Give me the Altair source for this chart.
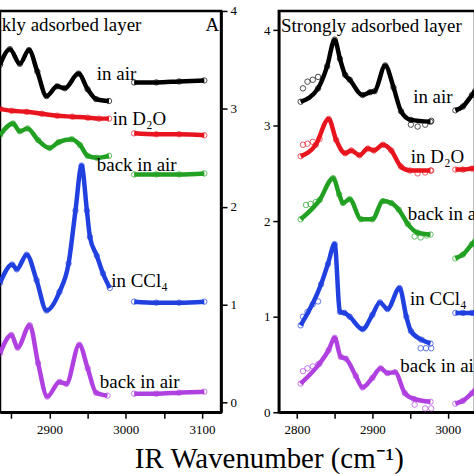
import altair as alt
import pandas as pd

SERIES = ["in air", "in D2O", "back in air", "in CCl4", "back in air (2)"]
COLORS = ["#000000", "#e8141e", "#22a022", "#2040e0", "#b040e0"]

# ---------- left panel: weakly adsorbed layer ----------
L_AIR_X = [2835, 2848, 2861, 2873, 2884, 2896, 2910, 2920, 2938, 2950, 2961, 2978]
L_AIR_Y = [3.45, 3.61, 3.46, 3.60, 3.38, 3.13, 3.23, 3.21, 3.36, 3.20, 3.10, 3.08]
L_D2O_X = [2835, 2850, 2870, 2890, 2910, 2930, 2950, 2965, 2978]
L_D2O_Y = [3.00, 2.98, 2.97, 2.95, 2.93, 2.92, 2.91, 2.90, 2.90]
L_BACK_X = [2835, 2852, 2861, 2871, 2885, 2900, 2912, 2929, 2940, 2950, 2962, 2978]
L_BACK_Y = [2.73, 2.85, 2.77, 2.80, 2.68, 2.60, 2.66, 2.69, 2.63, 2.52, 2.50, 2.52]
L_CCL4_X = [2835, 2851, 2857, 2870, 2883, 2896, 2913, 2925, 2934, 2942, 2949, 2953, 2962, 2970, 2979]
L_CCL4_Y = [1.22, 1.41, 1.36, 1.51, 1.25, 0.94, 1.13, 1.42, 1.96, 2.42, 1.96, 1.69, 1.50, 1.32, 1.17]
L_BACK2_X = [2835, 2850, 2858, 2874, 2885, 2897, 2913, 2922, 2939, 2950, 2961, 2976]
L_BACK2_Y = [0.50, 0.69, 0.56, 0.79, 0.40, 0.06, 0.21, 0.19, 0.59, 0.35, 0.10, 0.07]

L_BASE_X = [3011, 3040, 3070, 3103]
L_AIR_BASE = [3.27, 3.27, 3.28, 3.29]
L_D2O_BASE = [2.75, 2.74, 2.74, 2.73]
L_BACK_BASE = [2.33, 2.33, 2.33, 2.34]
L_CCL4_BASE = [1.03, 1.02, 1.02, 1.03]
L_BACK2_BASE = [0.09, 0.09, 0.10, 0.11]

# ---------- right panel: strongly adsorbed layer ----------
R_AIR_X = [2805, 2828, 2840, 2850, 2857, 2864, 2870, 2887, 2897, 2903, 2917, 2928, 2938, 2951, 2977]
R_AIR_Y = [3.25, 3.39, 3.62, 3.90, 3.70, 3.53, 3.48, 3.32, 3.35, 3.36, 3.63, 3.40, 3.15, 3.06, 3.04]
R_D2O_X = [2805, 2825, 2842, 2852, 2864, 2872, 2883, 2894, 2902, 2914, 2925, 2938, 2950, 2977]
R_D2O_Y = [2.68, 2.80, 3.07, 2.85, 2.71, 2.74, 2.69, 2.76, 2.74, 2.80, 2.74, 2.57, 2.53, 2.53]
R_BACK_X = [2805, 2830, 2848, 2856, 2861, 2870, 2885, 2900, 2914, 2925, 2935, 2947, 2960, 2977]
R_BACK_Y = [2.02, 2.22, 2.45, 2.28, 2.19, 2.23, 2.02, 2.02, 2.21, 2.19, 2.12, 1.97, 1.88, 1.86]
R_CCL4_X = [2805, 2832, 2841, 2850, 2857, 2863, 2870, 2887, 2900, 2910, 2920, 2936, 2945, 2951, 2965, 2977]
R_CCL4_Y = [0.91, 1.34, 1.55, 1.76, 1.05, 1.04, 1.00, 0.87, 1.02, 1.15, 1.08, 1.30, 1.00, 0.85, 0.76, 0.72]
R_BACK2_X = [2805, 2830, 2842, 2850, 2858, 2865, 2878, 2887, 2900, 2911, 2920, 2930, 2943, 2955, 2977]
R_BACK2_Y = [0.30, 0.51, 0.65, 0.78, 0.58, 0.56, 0.38, 0.26, 0.36, 0.46, 0.41, 0.42, 0.20, 0.14, 0.11]

R_BASE_X = [3010, 3020, 3032, 3036]
R_AIR_BASE = [3.16, 3.20, 3.32, 3.36]
R_D2O_BASE = [2.54, 2.54, 2.55, 2.55]
R_BACK_BASE = [1.61, 1.65, 1.76, 1.79]
R_CCL4_BASE = [1.04, 1.04, 1.04, 1.04]
R_BACK2_BASE = [0.09, 0.12, 0.20, 0.23]

# raw-data circles that sit off the fitted curves (right panel)
R_AIR_CX = [2808, 2814, 2821, 2828, 2951, 2960, 2970, 2978]
R_AIR_CY = [3.39, 3.46, 3.48, 3.51, 3.01, 2.99, 3.01, 3.05]
R_D2O_CX = [2808, 2814, 2821, 2830, 2960, 2970, 2978]
R_D2O_CY = [2.80, 2.81, 2.83, 2.86, 2.50, 2.51, 2.53]
R_BACK_CX = [2812, 2818, 2825, 2956, 2964, 2972]
R_BACK_CY = [2.17, 2.18, 2.20, 1.84, 1.83, 1.85]
R_CCL4_CX = [2808, 2814, 2821, 2828, 2964, 2971, 2978]
R_CCL4_CY = [1.00, 1.05, 1.13, 1.16, 0.67, 0.67, 0.67]
R_BACK2_CX = [2808, 2814, 2821, 2828, 2956, 2970, 2978]
R_BACK2_CY = [0.43, 0.46, 0.48, 0.50, 0.08, 0.04, 0.04]

# labels
L_LAB_TEXT = ["in air", "in D₂O", "back in air", "in CCl₄", "back in air"]
L_LAB_X = [2962, 2983, 2962, 2981, 2966]
L_LAB_Y = [3.36, 2.90, 2.43, 1.24, 0.21]
R_LAB_TEXT = ["in air", "in D₂O", "back in air", "in CCl₄", "back in air", "Strongly adsorbed layer"]
R_LAB_X = [2954, 2951, 2947, 2950, 2937, 2779]
R_LAB_Y = [3.30, 2.67, 2.07, 1.18, 0.48, 4.04]
L_TITLE_TEXT = ["Weakly adsorbed layer", "A"]
L_TITLE_X = [3020.5, 3122.5]
L_TITLE_Y = [3.86, 3.86]

FONT = "Liberation Serif"


def curve_rows(series, seg, xs, ys):
    return [{"x": x, "y": y, "s": series, "seg": series + "-" + seg} for x, y in zip(xs, ys)]


left_rows = []
for s, xs, ys, by in [
    (SERIES[0], L_AIR_X, L_AIR_Y, L_AIR_BASE),
    (SERIES[1], L_D2O_X, L_D2O_Y, L_D2O_BASE),
    (SERIES[2], L_BACK_X, L_BACK_Y, L_BACK_BASE),
    (SERIES[3], L_CCL4_X, L_CCL4_Y, L_CCL4_BASE),
    (SERIES[4], L_BACK2_X, L_BACK2_Y, L_BACK2_BASE),
]:
    left_rows += curve_rows(s, "main", xs, ys)
    left_rows += curve_rows(s, "base", L_BASE_X, by)
df_left = pd.DataFrame(left_rows)

right_rows = []
right_circ = []
for s, xs, ys, by, cx, cy in [
    (SERIES[0], R_AIR_X, R_AIR_Y, R_AIR_BASE, R_AIR_CX, R_AIR_CY),
    (SERIES[1], R_D2O_X, R_D2O_Y, R_D2O_BASE, R_D2O_CX, R_D2O_CY),
    (SERIES[2], R_BACK_X, R_BACK_Y, R_BACK_BASE, R_BACK_CX, R_BACK_CY),
    (SERIES[3], R_CCL4_X, R_CCL4_Y, R_CCL4_BASE, R_CCL4_CX, R_CCL4_CY),
    (SERIES[4], R_BACK2_X, R_BACK2_Y, R_BACK2_BASE, R_BACK2_CX, R_BACK2_CY),
]:
    right_rows += curve_rows(s, "main", xs, ys)
    right_rows += curve_rows(s, "base", R_BASE_X, by)
    right_circ += curve_rows(s, "raw", cx, cy)
df_right = pd.DataFrame(right_rows)
df_right_c = pd.concat([df_right, pd.DataFrame(right_circ)], ignore_index=True)

df_llab = pd.DataFrame({"x": L_LAB_X, "y": L_LAB_Y, "t": L_LAB_TEXT})
df_ltitle = pd.DataFrame({"x": L_TITLE_X, "y": L_TITLE_Y, "t": L_TITLE_TEXT})
df_rlab = pd.DataFrame({"x": R_LAB_X, "y": R_LAB_Y, "t": R_LAB_TEXT})

color = alt.Color("s:N", scale=alt.Scale(domain=SERIES, range=COLORS), legend=None)
Y_VALUES = [0, 0.5, 1, 1.5, 2, 2.5, 3, 3.5, 4]
Y_LABEL_EXPR = "datum.value % 1 === 0 ? datum.label : ''"


def panel(df_lines, df_pts, df_lab, df_title, xdom, ydom, x_axis, yorient, width):
    xs = alt.Scale(domain=xdom, nice=False, zero=False)
    ys = alt.Scale(domain=ydom, nice=False, zero=False)
    y_axis = alt.Axis(orient=yorient, values=Y_VALUES, labelExpr=Y_LABEL_EXPR, format="d", title=None,
                      labelPadding=3)
    lines = alt.Chart(df_lines).mark_line(strokeWidth=4.5, interpolate="monotone", clip=True).encode(
        x=alt.X("x:Q", scale=xs, axis=x_axis),
        y=alt.Y("y:Q", scale=ys, axis=y_axis),
        color=color,
        detail="seg:N",
    )
    pts = alt.Chart(df_pts).mark_point(shape="circle", filled=False, size=30, strokeWidth=1, clip=True).encode(
        x=alt.X("x:Q", scale=xs, axis=x_axis),
        y=alt.Y("y:Q", scale=ys, axis=y_axis),
        color=color,
    )
    labs = alt.Chart(df_lab).mark_text(font=FONT, fontSize=19, align="left", baseline="middle", color="black",
                                       clip=True).encode(
        x=alt.X("x:Q", scale=xs, axis=x_axis),
        y=alt.Y("y:Q", scale=ys, axis=y_axis),
        text="t:N",
    )
    layers = [lines, pts, labs]
    if df_title is not None:
        tt = alt.Chart(df_title).mark_text(font=FONT, fontSize=19, align="right", baseline="middle", color="black",
                                           clip=True).encode(
            x=alt.X("x:Q", scale=xs, axis=x_axis),
            y=alt.Y("y:Q", scale=ys, axis=y_axis),
            text="t:N",
        )
        layers.append(tt)
    return alt.layer(*layers).properties(width=width, height=403)


left_x_axis = alt.Axis(values=[2850, 2900, 2950, 3000, 3050, 3100], format="d",
                       labelExpr="datum.value % 100 === 0 ? datum.label : ''",
                       title=None, labelPadding=5)
right_x_axis = alt.Axis(values=[2800, 2850, 2900, 2950, 3000], format="d",
                        labelExpr="datum.value % 100 === 0 ? datum.label : ''",
                        labelPadding=5,
                        title="IR Wavenumber (cm⁻¹)", titleX=-10, titleY=55, titleFontSize=29,
                        titleFontWeight="normal", titleAlign="center", titleBaseline="alphabetic")

left = panel(df_left, df_left, df_llab, df_ltitle, [2835, 3125], [-0.10, 4.0], left_x_axis, "right", 222)
right = panel(df_right, df_right_c, df_rlab, None, [2776, 3036], [0, 4.2], right_x_axis, "left", 197)

chart = alt.hconcat(left, right, spacing=58, bounds="flush").properties(
    padding={"left": -2, "top": 2, "right": -3, "bottom": 0},
    background="white",
).configure_view(stroke="black", strokeWidth=2.5).configure_axis(
    domain=True, domainColor="black", domainWidth=2.5, ticks=True, tickColor="black",
    tickWidth=1.5, tickSize=6, labelFont=FONT, labelFontSize=13, labelColor="black",
    grid=False, titleFont=FONT, titleColor="black",
)

chart.save("out.html", embed_options={"renderer": "svg", "actions": False})
